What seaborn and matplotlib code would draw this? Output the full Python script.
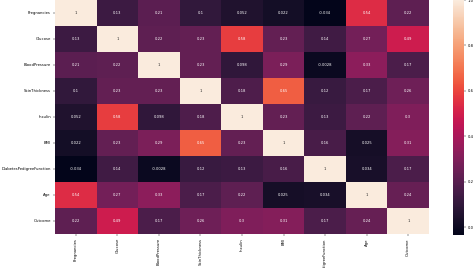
import pandas as pd
import matplotlib
matplotlib.use('Agg')
import matplotlib.pyplot as plt
import seaborn as sns

# column names of the diabetes dataset
cols = ['Pregnancies', 'Glucose', 'BloodPressure', 'SkinThickness', 'Insulin',
        'BMI', 'DiabetesPedigreeFunction', 'Age', 'Outcome']

# correlation values
pregnancies = [1, 0.13, 0.21, 0.1, 0.052, 0.022, -0.034, 0.54, 0.22]
glucose = [0.13, 1, 0.22, 0.23, 0.58, 0.23, 0.14, 0.27, 0.49]
blood_pressure = [0.21, 0.22, 1, 0.23, 0.098, 0.29, -0.0028, 0.33, 0.17]
skin_thickness = [0.1, 0.23, 0.23, 1, 0.18, 0.65, 0.12, 0.17, 0.26]
insulin = [0.052, 0.58, 0.098, 0.18, 1, 0.23, 0.13, 0.22, 0.3]
bmi = [0.022, 0.23, 0.29, 0.65, 0.23, 1, 0.16, 0.025, 0.31]
dpf = [-0.034, 0.14, -0.0028, 0.12, 0.13, 0.16, 1, 0.034, 0.17]
age = [0.54, 0.27, 0.33, 0.17, 0.22, 0.025, 0.034, 1, 0.24]
outcome = [0.22, 0.49, 0.17, 0.26, 0.3, 0.31, 0.17, 0.24, 1]

corr = pd.DataFrame([pregnancies, glucose, blood_pressure, skin_thickness, insulin,
                     bmi, dpf, age, outcome], index=cols, columns=cols)

fig = plt.figure(figsize=(4.74, 2.68), dpi=100)
ax = fig.add_axes([55 / 474, 34 / 268, 374 / 474, 234 / 268])
cax = fig.add_axes([453 / 474, 33 / 268, 11 / 474, 235 / 268])

# correlation heatmap with annotations
sns.heatmap(corr, annot=True, ax=ax, cbar_ax=cax, annot_kws={'fontsize': 2.7})

ax.tick_params(axis='both', labelsize=2.7, length=1.5, width=0.3, pad=1.5)
ax.set_xticklabels(ax.get_xticklabels(), rotation=90)
ax.set_yticklabels(ax.get_yticklabels(), rotation=0)
cax.tick_params(labelsize=2.7, length=1.5, width=0.3, pad=1)
cax.set_yticks([0.0, 0.2, 0.4, 0.6, 0.8, 1.0])

fig.savefig('out.png', dpi=100)
